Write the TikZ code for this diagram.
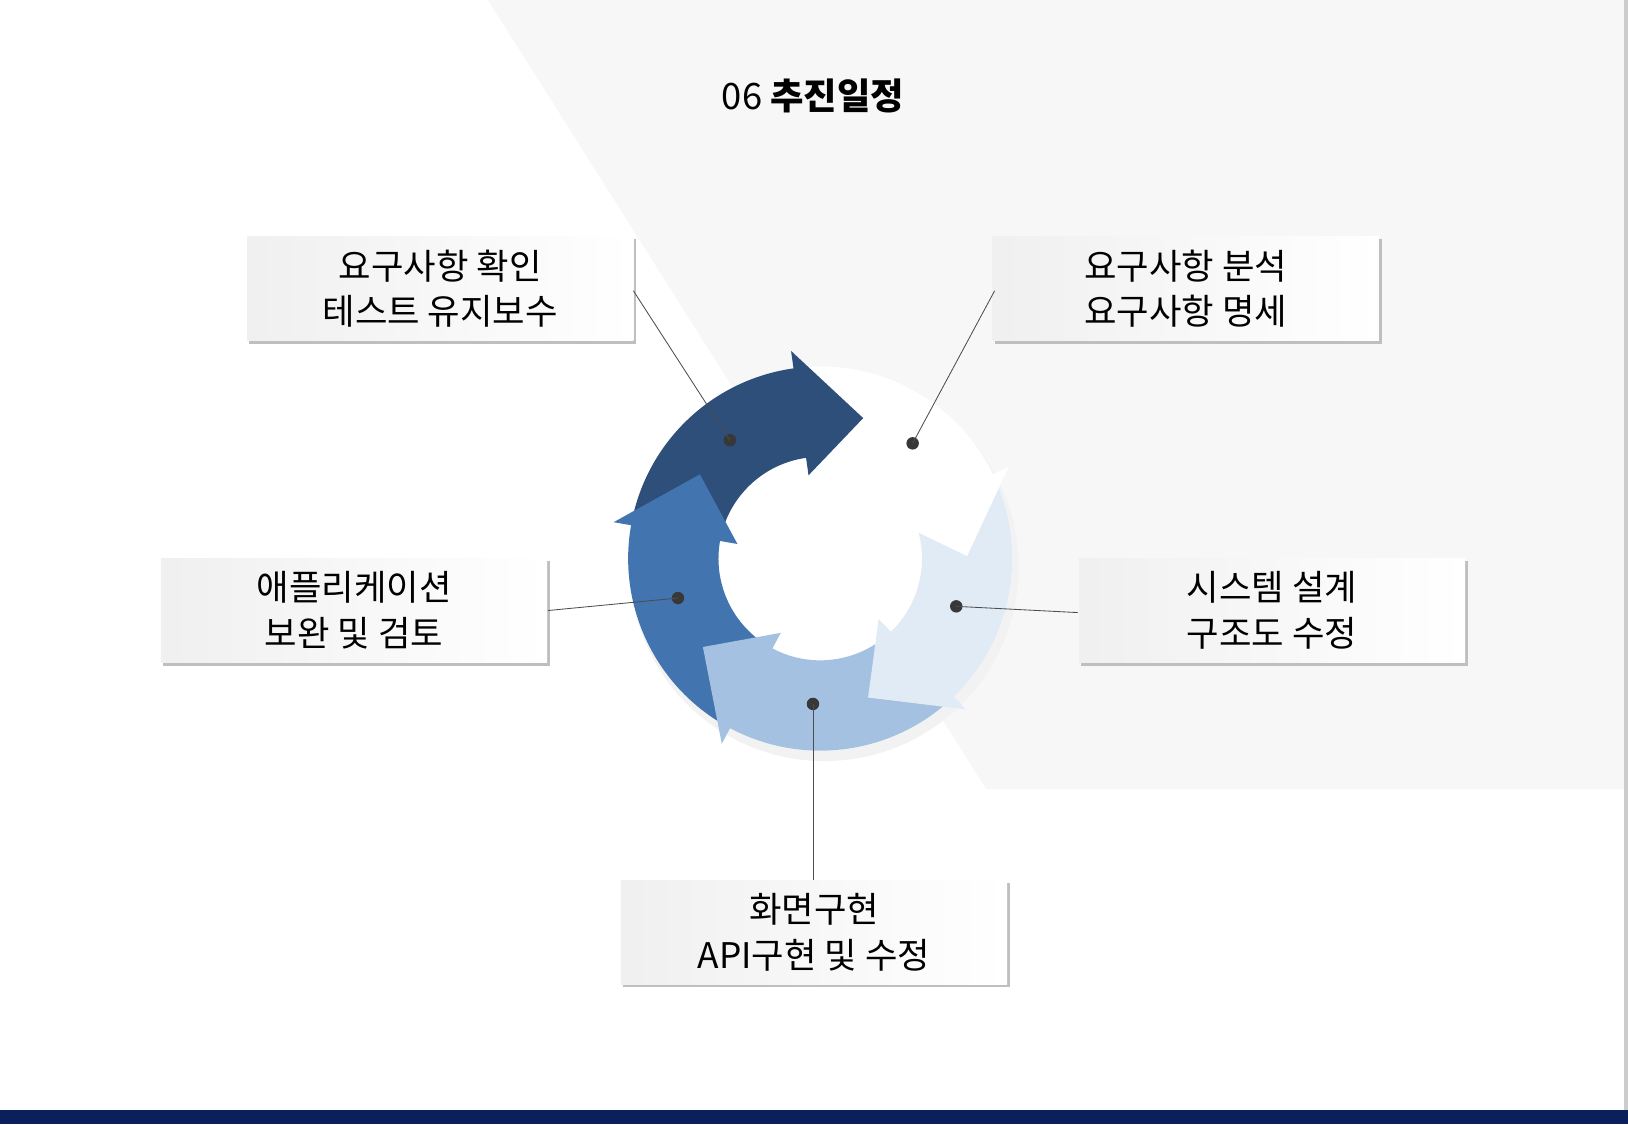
\documentclass[tikz,border=0pt]{standalone}
\usepackage{fontspec}
\setmainfont{Noto Sans CJK KR}
\begin{document}
\begin{tikzpicture}[x=1pt,y=-1pt,
  box/.style={minimum width=372pt,minimum height=100pt,inner sep=0pt,align=center,font=\fontsize{34}{44}\selectfont,left color=black!6,right color=white,draw=none},
  shadowbox/.style={fill=black!25,draw=none},
  dot/.style={circle,fill=black!78,inner sep=0pt,minimum size=12pt},
  lead/.style={draw=black!70,line width=0.8pt}]
\useasboundingbox (0,0) rectangle (1568,1083);
\fill[white] (0,0) rectangle (1568,1083);
\fill[black!3] (470,0) -- (1564,0) -- (1564,760) -- (950,760) -- cycle;
\fill[black!20] (1564,0) rectangle (1568,1069);
\fill[fill={rgb,255:red,10;green,31;blue,92}] (0,1069) rectangle (1568,1083);
\node[font=\fontsize{35}{40}\selectfont] (title) at (783,92) {06 \textbf{추진일정}};
% ring
\definecolor{cA}{HTML}{2D4F79}
\definecolor{cB}{HTML}{FFFFFF}
\definecolor{cC}{HTML}{E1EBF6}
\definecolor{cD}{HTML}{A4C1E1}
\definecolor{cE}{HTML}{4274B0}
\begin{scope}[shift={(790,538)},y=1pt]
 \fill[black!5] (4,-8) circle (187);
 \def\Ro{185}\def\Ri{98}\def\Rm{141.5}\def\E{17}
 \fill[white] (0,0) circle (\Ro);
 \foreach \t/\c in {1/cB,-71/cC,-143/cD,145/cE,73/cA}{
   \pgfmathsetmacro{\b}{\t+24}\pgfmathsetmacro{\a}{\t+96}
   \fill[\c] (\b:\Ro) arc[start angle=\b,end angle=\a,radius=\Ro] -- (\a:\Ri) arc[start angle=\a,end angle=\b,radius=\Ri] -- cycle;
 }
 \foreach \t/\c in {1/cB,-71/cC,-143/cD,145/cE,73/cA}{
   \pgfmathsetmacro{\b}{\t+25}
   \fill[\c] (\b:\Ro+\E) -- (\t:\Rm) -- (\b:\Ri-\E) -- cycle;
 }
\end{scope}
% boxes
\foreach \n/\x/\y in {b1/424/278,b2/1142/278,b3/341/588,b4/1225/588,b5/784/898}{
  \fill[shadowbox] (\x-184,\y-48) rectangle (\x+189,\y+53);
}
\node[box] (b1) at (424,278) {요구사항 확인\\테스트 유지보수};
\node[box] (b2) at (1142,278) {요구사항 분석\\요구사항 명세};
\node[box] (b3) at (341,588) {애플리케이션\\보완 및 검토};
\node[box] (b4) at (1225,588) {시스템 설계\\구조도 수정};
\node[box] (b5) at (784,898) {화면구현\\API구현 및 수정};
% dots
\node[dot] (d1) at (703,424) {};
\node[dot] (d2) at (879,427) {};
\node[dot] (d3) at (653,576) {};
\node[dot] (d4) at (921,584) {};
\node[dot] (d5) at (783,678) {};
\coordinate (e1) at (610,280);
\coordinate (e2) at (958,280);
\coordinate (e3) at (528,588);
\coordinate (e4) at (1038,590);
\coordinate (e5) at (783,848);
\draw[lead] (e1) -- (d1.center);
\draw[lead] (e2) -- (d2.center);
\draw[lead] (e3) -- (d3.center);
\draw[lead] (e4) -- (d4.center);
\draw[lead] (e5) -- (d5.center);
\end{tikzpicture}
\end{document}
